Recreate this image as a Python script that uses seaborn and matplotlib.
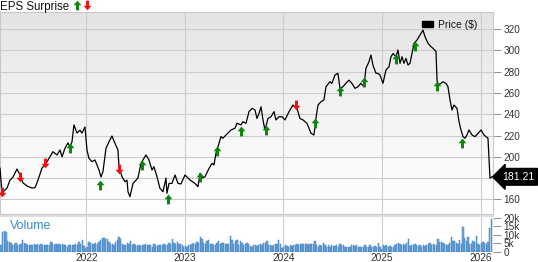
import numpy as np
import pandas as pd
import matplotlib
matplotlib.use("Agg")
import matplotlib.pyplot as plt
import matplotlib.transforms as mtransforms
from matplotlib.path import Path
from matplotlib.lines import Line2D
from matplotlib.patches import Patch
from matplotlib.markers import MarkerStyle
from matplotlib.colors import LinearSegmentedColormap
import seaborn as sns

# ---------------- data ----------------
price_t = [2021.125, 2021.145, 2021.196, 2021.226, 2021.257, 2021.297, 2021.328, 2021.358, 2021.399, 2021.449,
           2021.480, 2021.510, 2021.551, 2021.581, 2021.612, 2021.662, 2021.703, 2021.733, 2021.754, 2021.784,
           2021.814, 2021.835, 2021.855, 2021.875, 2021.906, 2021.936, 2021.956, 2021.987, 2022.007, 2022.027,
           2022.058, 2022.088, 2022.129, 2022.149, 2022.169, 2022.200, 2022.230, 2022.260, 2022.291, 2022.321,
           2022.332, 2022.362, 2022.392, 2022.413, 2022.423, 2022.443, 2022.474, 2022.524, 2022.555, 2022.605,
           2022.636, 2022.666, 2022.686, 2022.717, 2022.747, 2022.778, 2022.808, 2022.818, 2022.839, 2022.869,
           2022.900, 2022.930, 2022.960, 2023.001, 2023.052, 2023.102, 2023.133, 2023.153, 2023.173, 2023.204,
           2023.244, 2023.275, 2023.295, 2023.315, 2023.336, 2023.366, 2023.386, 2023.417, 2023.468, 2023.508,
           2023.528, 2023.569, 2023.589, 2023.620, 2023.650, 2023.681, 2023.711, 2023.731, 2023.752, 2023.772,
           2023.792, 2023.812, 2023.843, 2023.873, 2023.904, 2023.924, 2023.954, 2023.985, 2024.015, 2024.056,
           2024.096, 2024.137, 2024.167, 2024.198, 2024.238, 2024.279, 2024.309, 2024.329, 2024.350, 2024.380,
           2024.410, 2024.431, 2024.471, 2024.491, 2024.522, 2024.552, 2024.573, 2024.603, 2024.633, 2024.664,
           2024.694, 2024.725, 2024.755, 2024.785, 2024.816, 2024.836, 2024.867, 2024.887, 2024.907, 2024.938,
           2024.958, 2024.978, 2025.009, 2025.039, 2025.070, 2025.090, 2025.111, 2025.141, 2025.161, 2025.182,
           2025.202, 2025.222, 2025.242, 2025.263, 2025.283, 2025.303, 2025.324, 2025.354, 2025.385, 2025.415,
           2025.435, 2025.466, 2025.496, 2025.516, 2025.547, 2025.557, 2025.567, 2025.597, 2025.618, 2025.648,
           2025.668, 2025.689, 2025.709, 2025.729, 2025.760, 2025.780, 2025.800, 2025.821, 2025.841, 2025.861,
           2025.881, 2025.912, 2025.942, 2025.973, 2026.003, 2026.033, 2026.074, 2026.094, 2026.115]
price_v = [189.5, 166, 170.7, 178, 181, 188.5, 183, 175.5, 172.6, 170.7,
           171, 178, 189.5, 192.3, 197, 204.8, 201.7, 206.4, 200, 208,
           213, 209.5, 214, 230, 222.3, 225, 222.3, 228, 206.4, 198.6,
           195.4, 197, 187.6, 181, 186, 208, 214, 219.5, 212.7, 206.4,
           190.7, 181.3, 176.6, 178, 167.2, 162.5, 175, 180, 194, 201.7,
           197, 187.6, 190.7, 181.3, 170.4, 167.2, 180, 165.7, 175, 175,
           182.9, 175, 174.5, 182.9, 178.2, 175, 172, 184.5, 180, 181.3,
           189, 193.9, 192.3, 203.3, 209.5, 219, 217.4, 220.5, 225.2, 226.8,
           231.5, 230, 233, 231.5, 242.4, 245.5, 244, 236, 240.8, 247,
           234.6, 225.2, 236, 237.6, 242.4, 234.6, 237.6, 237.6, 234.6, 242.4,
           248.6, 245.5, 236, 234.6, 231.5, 222, 220.5, 236, 248.6, 251.7,
           253.3, 265.8, 270.5, 269, 276.8, 278.4, 264.3, 265.8, 269, 272,
           269, 264.3, 265.8, 269, 265.8, 283, 289.3, 295.6, 286.2, 278.4,
           278.4, 276.8, 269, 281.5, 284.6, 294, 297, 294, 300.3, 287.8,
           294, 287.8, 292.5, 286.2, 287.8, 297, 306.6, 309.7, 314.4, 319,
           312.8, 306.6, 303.4, 301.9, 298.7, 272, 267.4, 269, 270.5, 269,
           265.8, 253.3, 244, 248.6, 245.5, 233, 225.2, 218.9, 217.4, 220.5,
           225.2, 220.5, 218.9, 222, 225.2, 220.5, 217.4, 180, 181.21]

# EPS surprise markers: date, price level, beat (True = green up, False = red down)
eps_t = [2021.145, 2021.328, 2021.581, 2021.830, 2022.139, 2022.332, 2022.570, 2022.824, 2023.153, 2023.322,
         2023.574, 2023.819, 2024.127, 2024.319, 2024.573, 2024.816, 2025.138, 2025.334, 2025.560, 2025.813]
eps_v = [167, 181, 194.5, 208.6, 173.5, 188.3, 192.3, 160, 181.3, 205.7,
         224.5, 225.2, 248.6, 232, 262, 270.5, 291.8, 304.3, 266.8, 212.7]
eps_beat = [False, False, False, True, True, False, True, True, True, True,
            True, True, False, True, True, True, True, True, True, True]

# weekly volume in thousands
vol_k = [3.9, 11.6, 12.0, 11.6, 6.2, 5.8, 5.4, 3.9, 4.8, 5.4,
         3.9, 4.3, 4.8, 6.8, 5.2, 4.8, 4.3, 3.9, 4.3, 3.9,
         4.7, 4.3, 4.8, 3.9, 4.7, 3.9, 4.3, 3.9, 3.9, 4.3,
         5.8, 5.2, 4.3, 4.8, 3.9, 4.7, 4.3, 4.5, 3.9, 3.9,
         3.1, 4.3, 3.9, 4.3, 3.9, 4.7, 3.9, 5.8, 4.8, 7.0,
         3.3, 2.3, 3.1, 5.8, 5.4, 4.8, 4.8, 5.0, 4.8, 5.8,
         6.8, 8.1, 8.1, 7.8, 7.4, 5.8, 4.8, 4.7, 4.3, 5.8,
         7.0, 8.7, 7.8, 4.8, 4.3, 3.9, 5.4, 4.7, 6.2, 4.3,
         4.7, 3.9, 3.5, 3.9, 3.5, 4.3, 3.9, 4.7, 3.9, 4.3,
         3.9, 3.1, 4.5, 4.3, 3.5, 4.3, 3.9, 4.3, 4.7, 3.9,
         4.3, 5.4, 4.8, 7.8, 5.4, 4.7, 5.8, 4.7, 4.8, 3.9,
         3.1, 3.5, 3.1, 3.9, 4.3, 4.7, 5.4, 4.8, 5.8, 5.4,
         8.5, 7.8, 5.4, 4.8, 6.2, 6.8, 4.8, 4.7, 3.9, 4.3,
         5.4, 6.6, 4.8, 5.4, 5.2, 4.8, 4.7, 4.8, 9.3, 6.8,
         4.8, 6.2, 6.8, 4.3, 6.6, 5.0, 3.9, 4.7, 5.4, 4.7,
         3.5, 2.9, 3.9, 4.3, 3.5, 4.3, 4.7, 4.3, 5.2, 5.4,
         6.2, 3.9, 4.3, 3.5, 4.3, 4.7, 4.8, 7.0, 4.7, 2.3,
         3.1, 3.9, 3.5, 3.1, 3.9, 3.5, 4.3, 3.9, 4.7, 4.3,
         4.7, 4.7, 4.7, 4.7, 4.8, 3.9, 4.7, 4.7, 4.7, 6.6,
         4.3, 3.1, 3.9, 3.5, 5.0, 3.9, 3.1, 3.9, 3.1, 3.9,
         3.5, 3.5, 4.3, 3.1, 4.8, 4.3, 3.9, 3.1, 2.7, 2.7,
         3.1, 3.9, 4.3, 3.5, 4.3, 3.1, 2.7, 2.7, 3.1, 4.3,
         3.1, 3.1, 3.9, 3.1, 2.7, 3.5, 3.1, 5.4, 3.1, 1.9,
         3.9, 3.5, 3.9, 2.9, 3.5, 3.1, 2.7, 3.9, 4.7, 5.4,
         4.7, 4.3, 4.8, 3.9, 5.4, 7.8, 3.5, 3.9, 4.3, 4.5,
         3.9, 3.5, 3.9, 3.1, 4.3, 3.5, 3.9, 4.7, 5.4, 4.3,
         4.7, 4.3, 4.3, 7.8, 5.8, 5.8, 5.4, 4.7, 4.3, 4.3,
         5.0, 8.5, 6.6, 6.2, 5.4, 4.8, 7.0, 4.7, 14.3, 8.1,
         6.2, 8.7, 4.7, 4.8, 6.2, 5.8, 9.3, 4.8, 3.9, 5.4,
         5.8, 5.4, 4.8, 5.8, 14.0, 19.4]
vol_first_t = 2021.135
vol_last_t = 2026.108

year_ticks = [2022, 2023, 2024, 2025, 2026]
year_labels = ["2022", "2023", "2024", "2025", "2026"]
price_ticks = [160, 180, 200, 220, 240, 260, 280, 300, 320]
# the 180 label sits under the last-price tag in the reference, so it is left blank
price_labels = ["160", "", "200", "220", "240", "260", "280", "300", "320"]
vol_ticks = [0, 5, 10, 15, 20]
vol_labels = ["0", "5k", "10k", "15k", "20k"]
last_price = 181.21

# ---------------- style ----------------
sns.set_style("white")
plt.rcParams['font.family'] = ['Liberation Sans', 'DejaVu Sans']

GREEN = '#0b850b'
RED = '#f01010'
GRID = '#cccccc'
TXT = '#333333'

up_path = Path([(0, 1), (0.8, 0.05), (0.3, 0.05), (0.3, -1), (-0.3, -1),
                (-0.3, 0.05), (-0.8, 0.05), (0, 1)])
down_path = Path([(x, -y) for x, y in up_path.vertices])

fig = plt.figure(figsize=(5.38, 2.62), dpi=100)
ax1 = fig.add_axes([0.0, 0.1813, 0.9164, 0.7729])
ax2 = fig.add_axes([0.0, 0.0382, 0.9164, 0.1374])

# gradient background of the price panel
cmap = LinearSegmentedColormap.from_list("bg", ["#ffffff", "#e4e4e4"])
grad = np.linspace(1, 0, 256).reshape(-1, 1) ** 1.2
ax1.imshow(grad, extent=[0, 1, 0, 1], transform=ax1.transAxes, aspect='auto',
           cmap=cmap, vmin=0, vmax=1, zorder=0, origin='upper')

# price line
df = pd.DataFrame({"t": price_t, "price": price_v})
sns.lineplot(data=df, x="t", y="price", ax=ax1, color="black", linewidth=0.9,
             zorder=3, legend=False)

# EPS arrows
eps = pd.DataFrame({"t": eps_t, "v": eps_v, "beat": eps_beat})
beats = eps[eps["beat"]]
misses = eps[~eps["beat"]]
sns.scatterplot(data=beats, x="t", y="v", ax=ax1, marker=up_path, s=50,
                color=GREEN, linewidth=0, zorder=4, legend=False)
sns.scatterplot(data=misses, x="t", y="v", ax=ax1, marker=down_path, s=50,
                color=RED, linewidth=0, zorder=4, legend=False)

x0, x1 = 2021.125, 2026.125
ax1.set_xlim(x0, x1)
ax1.set_ylim(145.8, 336)
ax1.set_xticks(year_ticks)
ax1.set_xticklabels([])
ax1.set_yticks(price_ticks)
ax1.set_yticklabels(price_labels)
ax1.yaxis.tick_right()
ax1.tick_params(axis='y', which='both', direction='out', length=6, width=0.8,
                color='#999999', labelsize=7.2, labelcolor=TXT, pad=1.5, right=True, left=False)
ax1.tick_params(axis='x', length=0)
ax1.grid(True, color=GRID, linewidth=0.8, zorder=1)
ax1.set_axisbelow(True)
ax1.set_xlabel("")
ax1.set_ylabel("")
for s in ax1.spines.values():
    s.set_color('#c8c8c8')
    s.set_linewidth(0.8)

# legend
leg = ax1.legend(handles=[Patch(facecolor='black', edgecolor='black', label='Price ($)')],
                 loc='upper right', frameon=False, fontsize=7.5, handlelength=1.1,
                 handleheight=0.55, handletextpad=0.5, borderaxespad=0.35,
                 bbox_to_anchor=(0.985, 1.0))
for t in leg.get_texts():
    t.set_color('#111111')

# last price tag
trans = mtransforms.blended_transform_factory(ax1.transAxes, ax1.transData)
ax1.text(1.018, last_price, f"{last_price:.2f}", transform=trans, ha='left', va='center',
         color='white', fontsize=7.5, zorder=6, clip_on=False,
         bbox=dict(boxstyle='larrow,pad=0.32', facecolor='black', edgecolor='black'))

# volume panel
vol_t = np.linspace(vol_first_t, vol_last_t, len(vol_k))
width = (vol_last_t - vol_first_t) / (len(vol_k) - 1) * 0.8
ax2.bar(vol_t, vol_k, width=width, color='#6ea6da', edgecolor='#3f7fc0',
        linewidth=0.35, zorder=3)
ax2.set_xlim(x0, x1)
ax2.set_ylim(0, 20.9)
ax2.set_xticks(year_ticks)
ax2.set_xticklabels(year_labels)
ax2.set_yticks(vol_ticks)
ax2.set_yticklabels(vol_labels)
ax2.yaxis.tick_right()
ax2.tick_params(axis='y', direction='out', length=6, width=0.8, color='#999999',
                labelsize=7.2, labelcolor=TXT, pad=1.5, right=True, left=False)
ax2.tick_params(axis='x', length=0, labelsize=7.3, labelcolor=TXT, pad=1.0)
ax2.grid(True, axis='x', color=GRID, linewidth=0.8, zorder=1)
ax2.grid(False, axis='y')
ax2.set_axisbelow(True)
for k, s in ax2.spines.items():
    s.set_visible(False)
ax2.spines['top'].set_visible(True)
ax2.spines['top'].set_color('#dedede')
ax2.spines['top'].set_linewidth(1.4)
ax2.text(0.02, 0.9, "Volume", transform=ax2.transAxes, ha='left', va='top',
         color='#3a8bd0', fontsize=9, zorder=5)

# header
fig.text(0.0, 0.998, "EPS Surprise", ha='left', va='top', fontsize=8.3, color='#111111')
fig.add_artist(Line2D([0.1435], [0.981], marker=MarkerStyle(up_path), markersize=7,
                      color=GREEN, markeredgewidth=0, linestyle='none',
                      transform=fig.transFigure))
fig.add_artist(Line2D([0.1620], [0.981], marker=MarkerStyle(down_path), markersize=7,
                      color=RED, markeredgewidth=0, linestyle='none',
                      transform=fig.transFigure))

fig.savefig("out.png", dpi=100)
